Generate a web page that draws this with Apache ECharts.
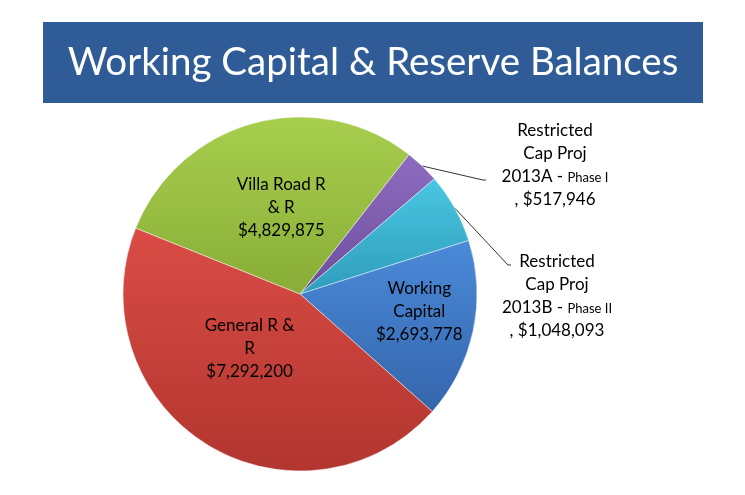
<!DOCTYPE html>
<html>
<head>
<meta charset="utf-8">
<script src="https://cdn.jsdelivr.net/npm/echarts@6/dist/echarts.min.js"></script>
<style>
html,body{margin:0;padding:0;background:#fff;}
#c{width:745px;height:495px;}
</style>
</head>
<body>
<div id="c"></div>
<script>
// ---- data ----
const titleText = 'Working Capital & Reserve Balances';
const names = ['Restricted Cap Proj 2013A - Phase I', 'Restricted Cap Proj 2013B - Phase II', 'Working Capital', 'General R & R', 'Villa Road R & R'];
const values = [517946, 1048093, 2693778, 7292200, 4829875];
const labelHeads = [
  ['Restricted', 'Cap Proj', '2013A - {s|Phase I}'],
  ['Restricted', 'Cap Proj', '2013B - {s|Phase II}'],
  ['Working', 'Capital'],
  ['General R &', 'R'],
  ['Villa Road R', '& R']
];
const outsideValuePrefix = ', ';
const colorsTop = ['#8e6cc0', '#4ac6e2', '#4b8ad9', '#da4c46', '#a8ce4e'];
const colorsBottom = ['#6d4e9c', '#2e9dbb', '#3465ab', '#b2352f', '#88ad37'];

// ---- helpers ----
function money(v) { return '$' + v.toLocaleString('en-US'); }
function labelText(i) {
  const head = labelHeads[i].join('\n');
  if (i < 2) return head + '\n' + outsideValuePrefix + money(values[i]);
  return head + '\n' + money(values[i]);
}
function grad(i) {
  return new echarts.graphic.LinearGradient(0, 0, 0, 1, [
    { offset: 0, color: colorsTop[i] },
    { offset: 1, color: colorsBottom[i] }
  ]);
}
const FONT = 'Lato';
const baseLabel = { color: '#000', fontFamily: FONT, fontSize: 17, lineHeight: 23, align: 'center',
  rich: { s: { fontFamily: FONT, fontSize: 13, color: '#000', lineHeight: 23, verticalAlign: 'middle', padding: [2, 0, 0, 0] } } };

const center = [300, 294];
const R = 177;
const startAngle = 52;
const total = values.reduce((a, b) => a + b, 0);

// mid angle (degrees, ccw from 3 o'clock) of slice i, from the data
function midAngle(i) {
  let acc = 0;
  for (let k = 0; k < i; k++) acc += values[k];
  return startAngle - (acc + values[i] / 2) / total * 360;
}
function edgePoint(i) {
  const a = midAngle(i) * Math.PI / 180;
  return [center[0] + R * Math.cos(a), center[1] - R * Math.sin(a)];
}

function mainData() {
  return values.map((v, i) => {
    const d = { name: names[i], value: v, itemStyle: { color: grad(i) } };
    if (i < 2) {
      d.label = Object.assign({}, baseLabel, { show: true, position: 'outside', formatter: () => labelText(i) });
      d.labelLine = { show: true, length: 10, length2: 2, lineStyle: { color: '#333', width: 1 } };
    } else if (i === 4) {
      d.label = Object.assign({}, baseLabel, { show: true, position: 'inside', formatter: () => labelText(i) });
      d.labelLine = { show: false };
    } else {
      d.label = { show: false };
      d.labelLine = { show: false };
    }
    return d;
  });
}
function ghostData(showIdx) {
  return values.map((v, i) => ({
    name: names[i], value: v,
    itemStyle: { color: 'rgba(0,0,0,0)' },
    label: i === showIdx ? Object.assign({}, baseLabel, { show: true, position: 'inside', formatter: () => labelText(i) }) : { show: false },
    labelLine: { show: false }
  }));
}

// outside label centres and where the leader line meets them (relative offsets)
const outsidePos = {
  0: { x: 555, y: 165, lx: -69, ly: 15 },
  1: { x: 557, y: 296, lx: -46, ly: -31 }
};

const chart = echarts.init(document.getElementById('c'), null, { renderer: 'canvas' });
chart.setOption({
  animation: false,
  backgroundColor: '#fff',
  graphic: [
    { type: 'rect', shape: { x: 43, y: 22, width: 660, height: 81 }, style: { fill: '#2f5c97' }, z: 0 },
    { type: 'text', x: 373, y: 63, style: { text: titleText, fill: '#fff', font: '38.5px Lato', align: 'center', verticalAlign: 'middle' }, z: 1 }
  ],
  series: [
    {
      type: 'pie', center: center, radius: R, startAngle: startAngle, clockwise: true,
      avoidLabelOverlap: false, silent: true,
      itemStyle: { borderColor: 'rgba(255,255,255,0.45)', borderWidth: 1 },
      labelLayout: function (p) {
        const pos = outsidePos[p.dataIndex];
        if (pos) {
          const s = edgePoint(p.dataIndex);
          const ex = pos.x + pos.lx, ey = pos.y + pos.ly;
          return { x: pos.x, y: pos.y, align: 'center', verticalAlign: 'middle',
            labelLinePoints: [s, [ex - 3, ey], [ex, ey]] };
        }
        if (p.dataIndex === 4) return { dx: 5, dy: 2 };
        return {};
      },
      data: mainData()
    },
    {
      type: 'pie', center: center, radius: [0, 140], startAngle: startAngle, clockwise: true,
      silent: true, avoidLabelOverlap: false, z: 3, data: ghostData(3),
      labelLayout: function () { return { dx: -12, dy: -8 }; }
    },
    {
      type: 'pie', center: center, radius: [100, 144], startAngle: startAngle, clockwise: true,
      silent: true, avoidLabelOverlap: false, z: 3, data: ghostData(2),
      labelLayout: function () { return { dx: -3, dy: -9 }; }
    }
  ]
});
</script>
</body>
</html>
